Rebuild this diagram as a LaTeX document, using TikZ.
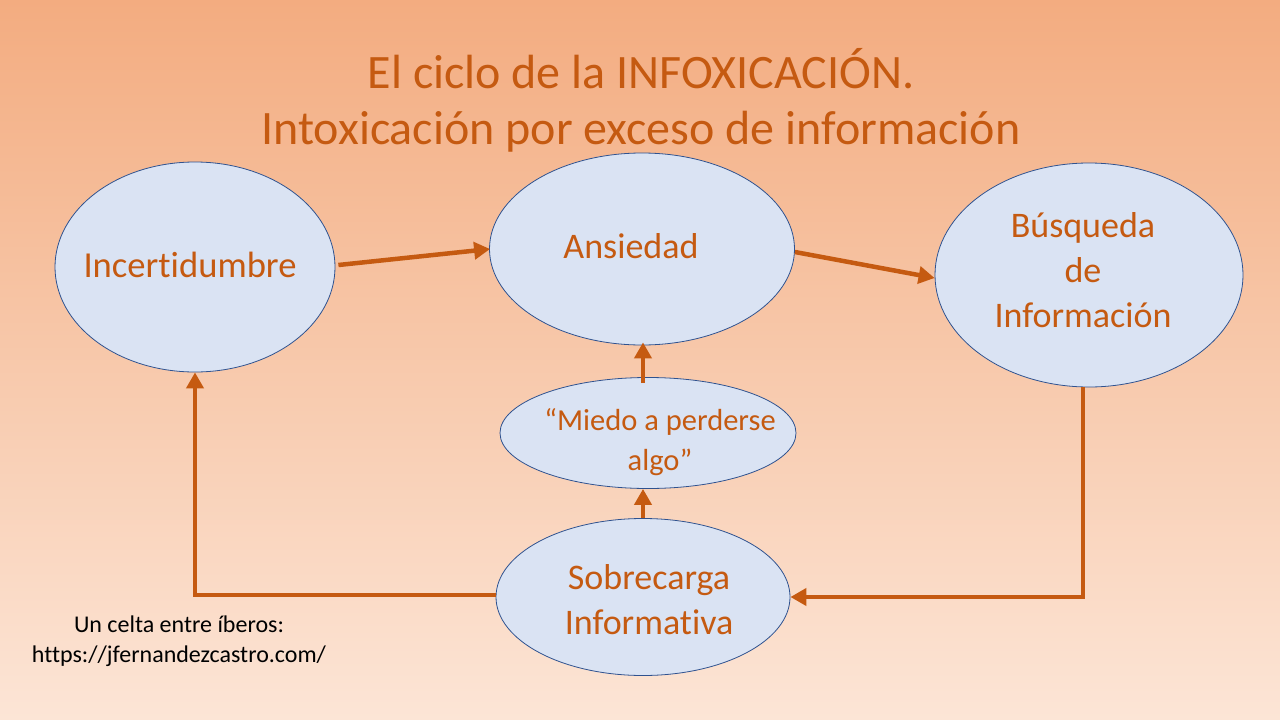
\documentclass[tikz,border=0pt]{standalone}
\usepackage{fontspec}
\setmainfont{Carlito}[RawFeature=-liga]
\usetikzlibrary{shapes.geometric,arrows.meta}
\definecolor{bgtop}{RGB}{243,172,128}
\definecolor{bgbot}{RGB}{252,229,214}
\definecolor{accent}{RGB}{197,90,17}
\definecolor{efill}{RGB}{218,227,243}
\definecolor{eline}{RGB}{47,82,143}
\tikzset{
  bub/.style={ellipse, draw=eline, line width=0.8pt, fill=efill, inner sep=0pt},
  lbl/.style={text=accent, align=center, font=\fontsize{36}{45}\selectfont, inner sep=0pt},
  arr/.style={draw=accent, line width=4.5pt, -{Triangle[length=16pt,width=17pt]}},
}
\begin{document}
\begin{tikzpicture}[x=1pt,y=-1pt]
\shade[top color=bgtop, bottom color=bgbot] (0,0) rectangle (1280,720);
\useasboundingbox (0,0) rectangle (1280,720);

\node[text=accent, align=center, font=\fontsize{48}{56}\selectfont] (title) at (641,100)
  {El ciclo de la INFOXICACIÓN.\\Intoxicación por exceso de información};

\node[bub, minimum width=280pt, minimum height=210pt,
  label={[lbl,font=\fontsize{36.6}{45}\selectfont,xshift=-5pt,yshift=2pt]center:Incertidumbre}] (inc) at (195,267) {};
\node[bub, minimum width=305pt, minimum height=192pt,
  label={[lbl,xshift=-11pt,yshift=3pt]center:Ansiedad}] (ans) at (642,249) {};
\node[bub, minimum width=308pt, minimum height=224pt,
  label={[lbl,xshift=-6pt,yshift=5pt]center:Búsqueda\\de\\Información}] (bus) at (1089,275) {};
\node[bub, minimum width=296pt, minimum height=111pt,
  label={[lbl,font=\fontsize{30.5}{40}\selectfont,xshift=12pt,yshift=-9pt]center:“Miedo a perderse\\algo”}] (mie) at (648,433) {};
\node[bub, minimum width=294pt, minimum height=157pt,
  label={[lbl,xshift=6pt,yshift=-3pt]center:Sobrecarga\\Informativa}] (sob) at (643,597) {};

\node[align=center, text=black, font=\fontsize{24}{30}\selectfont] (foot) at (179,641)
  {Un celta entre íberos:\\https://jfernandezcastro.com/};

\coordinate (bc) at (1083,597);
\coordinate (ic) at (195,595);

\draw[arr] (inc.east |- 0,265) ++(3,0) coordinate (a1) -- ([xshift=1pt]ans.west);
\draw[arr] ([xshift=0pt,yshift=-3pt]ans.east) -- ([yshift=-3pt]bus.west);
\draw[arr] ([xshift=-5pt,yshift=-6pt]mie.north) -- ([xshift=1pt,yshift=3pt]ans.south);
\draw[arr] (sob.north) -- ([xshift=-5pt]mie.south);
\draw[arr] (bus.south -| bc) -- (bc) -- (sob.east);
\draw[arr] (sob.west |- ic) -- (ic) -- (inc.south);
\end{tikzpicture}
\end{document}
